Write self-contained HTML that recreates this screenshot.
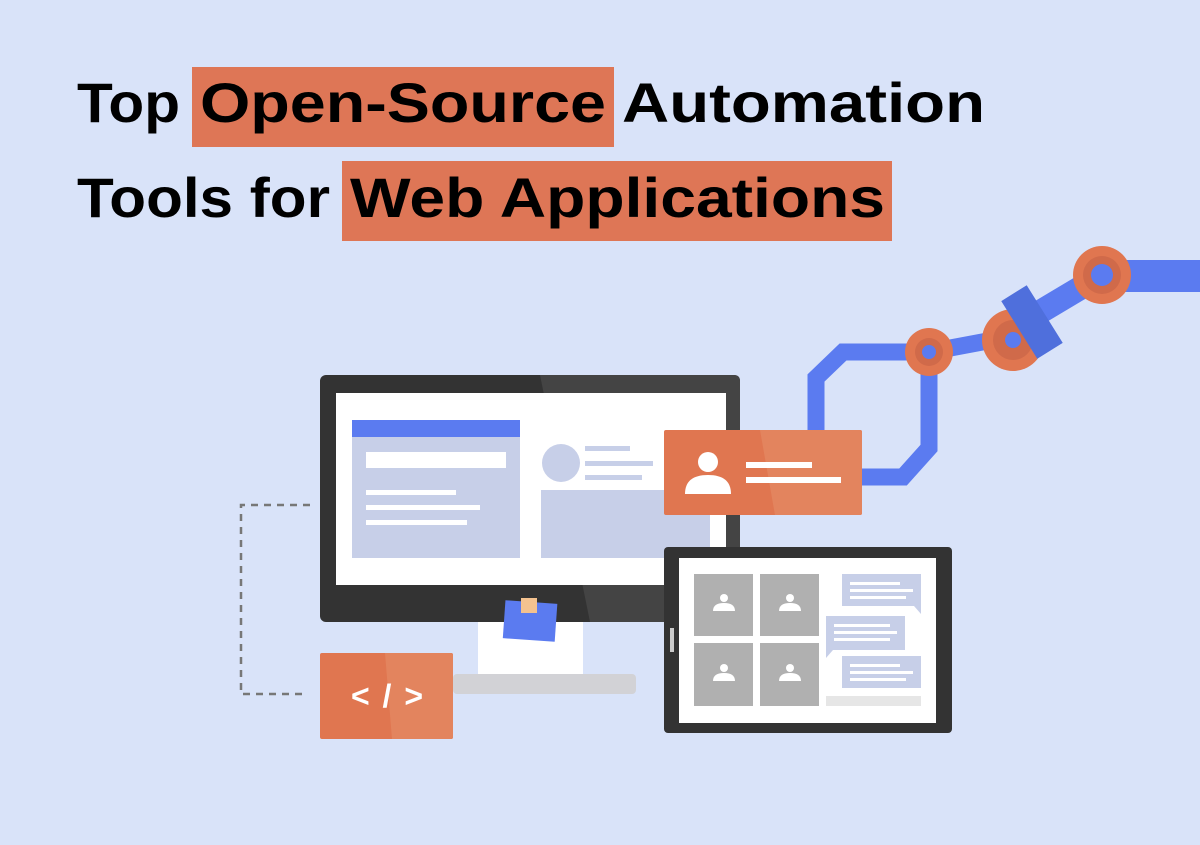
<!DOCTYPE html>
<html><head><meta charset="utf-8"><style>
html,body{margin:0;padding:0;background:#d9e3f9;}
svg{display:block}
</style></head><body>
<svg width="1200" height="845" viewBox="0 0 1200 845" xmlns="http://www.w3.org/2000/svg">
<rect width="1200" height="845" fill="#d9e3f9"/>
<!-- title -->
<rect x="192" y="67" width="422" height="80" fill="#de7656"/>
<rect x="342" y="161" width="550" height="80" fill="#de7656"/>
<g font-family="Liberation Sans, sans-serif" font-weight="bold" font-size="56" fill="#000">
<text x="77" y="122" textLength="103" lengthAdjust="spacingAndGlyphs">Top</text>
<text x="200" y="122" textLength="406" lengthAdjust="spacingAndGlyphs">Open-Source</text>
<text x="622" y="122" textLength="363" lengthAdjust="spacingAndGlyphs">Automation</text>
<text x="77" y="217" textLength="253" lengthAdjust="spacingAndGlyphs">Tools for</text>
<text x="350" y="217" textLength="535" lengthAdjust="spacingAndGlyphs">Web Applications</text>
</g>
<!-- dashed connector -->
<path d="M310 505 H241 V694 H305" fill="none" stroke="#777" stroke-width="2.5" stroke-dasharray="7 6"/>
<!-- robot arm -->
<g fill="none" stroke="#5b7bf0" stroke-width="17" stroke-linejoin="miter">
<path d="M816 432 V378 L843 352 H929 V448 L903 477 H855"/>
<path d="M929 352 L993 340"/>
</g>
<path d="M993 340 L1102 275" stroke="#5b7bf0" stroke-width="24"/>
<path d="M1102 276 H1200" stroke="#5b7bf0" stroke-width="32"/>
<circle cx="929" cy="352" r="24" fill="#e07650"/><circle cx="929" cy="352" r="14" fill="#d06a4a"/><circle cx="929" cy="352" r="7" fill="#5b7bf0"/>
<circle cx="1013" cy="340" r="31" fill="#e07650"/><circle cx="1013" cy="340" r="20" fill="#d06a4a"/><circle cx="1013" cy="340" r="8" fill="#5b7bf0"/>
<g transform="translate(1032 322) rotate(-32)"><rect x="-15" y="-34" width="30" height="68" fill="#4f6fdc"/></g>
<circle cx="1102" cy="275" r="29" fill="#e07650"/><circle cx="1102" cy="275" r="19" fill="#d06a4a"/><circle cx="1102" cy="275" r="11" fill="#5b7bf0"/>
<!-- monitor -->
<rect x="478" y="618" width="105" height="58" fill="#fff"/>
<rect x="453" y="674" width="183" height="20" rx="4" fill="#d2d2d6"/>
<rect x="320" y="375" width="420" height="247" rx="6" fill="#333"/>
<path d="M540 375 H734 Q740 375 740 381 V616 Q740 622 734 622 H590 Z" fill="#444"/>
<rect x="336" y="393" width="390" height="192" fill="#fff"/>
<rect x="352" y="420" width="168" height="138" fill="#c7cfe8"/>
<rect x="352" y="420" width="168" height="17" fill="#5b7bf0"/>
<rect x="366" y="452" width="140" height="16" fill="#fff"/>
<rect x="366" y="490" width="90" height="5" fill="#fff"/>
<rect x="366" y="505" width="114" height="5" fill="#fff"/>
<rect x="366" y="520" width="101" height="5" fill="#fff"/>
<circle cx="561" cy="463" r="19" fill="#c7cfe8"/>
<rect x="585" y="446" width="45" height="5" fill="#c7cfe8"/>
<rect x="585" y="461" width="68" height="5" fill="#c7cfe8"/>
<rect x="585" y="475" width="57" height="5" fill="#c7cfe8"/>
<rect x="541" y="490" width="169" height="68" fill="#c7cfe8"/>
<g transform="translate(530 622) rotate(4)"><rect x="-26" y="-20" width="52" height="38" fill="#5b7bf0"/></g>
<rect x="521" y="598" width="16" height="15" fill="#f4c28f"/>
<!-- code box -->
<rect x="320" y="653" width="133" height="86" rx="2" fill="#e07650"/>
<path d="M385 653 H451 Q453 653 453 655 V737 Q453 739 451 739 H392 Z" fill="#e3845e"/>
<text x="351" y="707" font-family="Liberation Sans, sans-serif" font-weight="bold" font-size="32" fill="#fff" textLength="72" lengthAdjust="spacing">&lt;/&gt;</text>
<!-- profile card -->
<rect x="664" y="430" width="198" height="85" rx="2" fill="#e07650"/>
<path d="M760 430 H860 Q862 430 862 432 V513 Q862 515 860 515 H775 Z" fill="#e3845e"/>
<circle cx="708" cy="462" r="10" fill="#fff"/>
<path d="M685 494 Q685 475 708 475 Q731 475 731 494 Z" fill="#fff"/>
<rect x="746" y="462" width="66" height="6" fill="#fff"/>
<rect x="746" y="477" width="95" height="6" fill="#fff"/>
<!-- tablet -->
<rect x="664" y="547" width="288" height="186" rx="4" fill="#333"/>
<rect x="679" y="558" width="257" height="165" fill="#fff"/>
<rect x="670" y="628" width="4" height="24" fill="#ccc"/>
<g fill="#b0b0b0">
<rect x="694" y="574" width="59" height="62"/><rect x="760" y="574" width="59" height="62"/>
<rect x="694" y="643" width="59" height="63"/><rect x="760" y="643" width="59" height="63"/>
</g>
<g fill="#fff">
<circle cx="724" cy="598" r="4"/><path d="M713 611 Q713 603 724 603 Q735 603 735 611Z"/>
<circle cx="790" cy="598" r="4"/><path d="M779 611 Q779 603 790 603 Q801 603 801 611Z"/>
<circle cx="724" cy="668" r="4"/><path d="M713 681 Q713 673 724 673 Q735 673 735 681Z"/>
<circle cx="790" cy="668" r="4"/><path d="M779 681 Q779 673 790 673 Q801 673 801 681Z"/>
</g>
<g fill="#c7cfe8">
<path d="M842 574 H921 V614 L914 606 H842Z"/>
<path d="M826 616 H905 V650 H833 L826 658Z"/>
<rect x="842" y="656" width="79" height="32"/>
</g>
<g fill="#fff">
<rect x="850" y="582" width="50" height="3"/><rect x="850" y="589" width="63" height="3"/><rect x="850" y="596" width="56" height="3"/>
<rect x="834" y="624" width="56" height="3"/><rect x="834" y="631" width="63" height="3"/><rect x="834" y="638" width="56" height="3"/>
<rect x="850" y="664" width="50" height="3"/><rect x="850" y="671" width="63" height="3"/><rect x="850" y="678" width="56" height="3"/>
</g>
<rect x="826" y="696" width="95" height="10" fill="#e6e6e6"/>
</svg>
</body></html>
